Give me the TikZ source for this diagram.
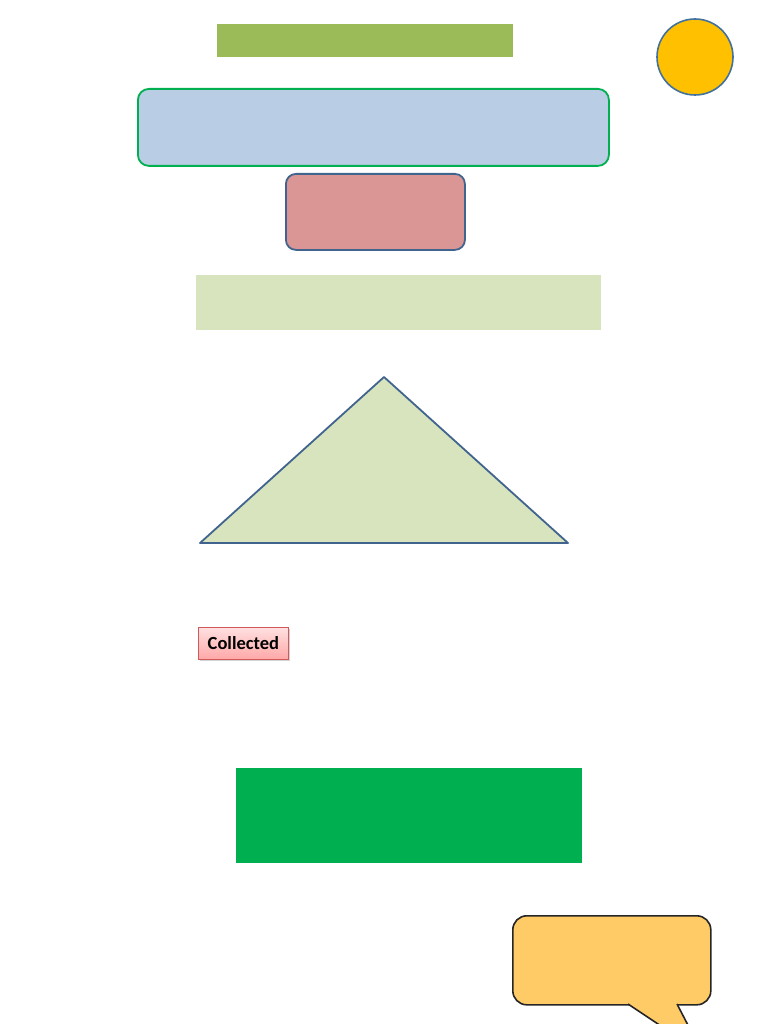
\documentclass[tikz,border=0pt]{standalone}
\usepackage{fontspec}
\newfontfamily\calib{Carlito}
\usetikzlibrary{shadows}
\definecolor{olivebar}{HTML}{9BBB59}
\definecolor{paleblue}{HTML}{B9CDE5}
\definecolor{brightgreen}{HTML}{00B050}
\definecolor{rosefill}{HTML}{D99694}
\definecolor{steel}{HTML}{41648F}
\definecolor{palegreen}{HTML}{D7E4BD}
\definecolor{sun}{HTML}{FFC000}
\definecolor{sunline}{HTML}{41719C}
\definecolor{callfill}{HTML}{FFCB66}
\definecolor{btnborder}{HTML}{D05A5A}
\definecolor{btntop}{HTML}{FFE0E0}
\definecolor{btnbot}{HTML}{FFA8A8}
\tikzset{
  box/.style={rectangle, inner sep=0pt, anchor=north west},
}
\begin{document}
\begin{tikzpicture}[x=1pt,y=-1pt]
\useasboundingbox (0,0) rectangle (768,1024);
\clip (0,0) rectangle (768,1024);
% top bar
\node[box, fill=olivebar, minimum width=296pt, minimum height=33pt] (topbar) at (217,24) {};
% sun circle
\node[circle, fill=sun, draw=sunline, line width=1.6pt, minimum size=76pt, inner sep=0pt] (sun) at (695,57) {};
% blue rounded
\node[box, fill=paleblue, draw=brightgreen, line width=1.8pt, rounded corners=11pt, minimum width=471pt, minimum height=77pt] (bluebox) at (137,88) {};
% red rounded
\node[box, fill=rosefill, draw=steel, line width=1.8pt, rounded corners=10pt, minimum width=179pt, minimum height=76pt] (redbox) at (285,173) {};
% light green band
\node[box, fill=palegreen, minimum width=405pt, minimum height=55pt] (band) at (196,275) {};
% triangle
\draw[fill=palegreen, draw=steel, line width=1.8pt, line join=round] (200,543) -- (384,377) -- (568,543) -- cycle;
% Collected button
\node[box, draw=btnborder, line width=0.8pt, top color=btntop, bottom color=btnbot, minimum width=90pt, minimum height=32pt,
  drop shadow={shadow xshift=1.5pt, shadow yshift=-1.5pt, opacity=0.35}] (btn) at (198,627) {};
\node[font=\calib\bfseries\fontsize{18.5}{20}\selectfont] (btnlabel) at (btn.center) {Collected};
% green block
\node[box, fill=brightgreen, minimum width=346pt, minimum height=95pt] (greenblock) at (236,768) {};
% callout
\node[box, fill=callfill, draw=black!85, line width=1.6pt, rounded corners=14pt, minimum width=198pt, minimum height=89pt] (callout) at (512,915) {};
\fill[callfill] (629,1002) -- (676,1002) -- (677,1004) -- (703,1054) -- (628,1004) -- cycle;
\draw[draw=black!85, line width=1.6pt, line join=round] (628,1004) -- (703,1054) -- (677,1004);
\end{tikzpicture}
\end{document}
